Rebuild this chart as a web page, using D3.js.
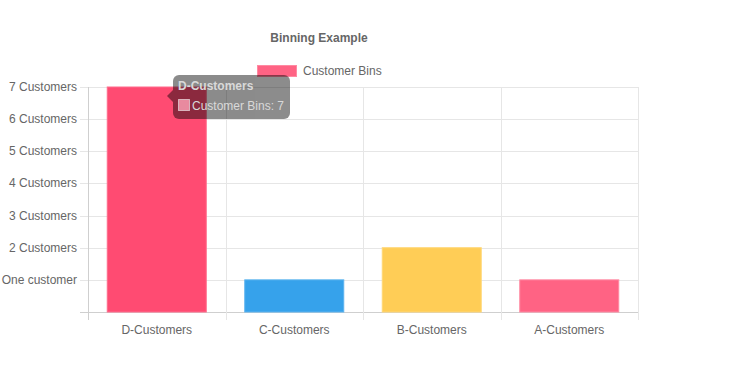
<!DOCTYPE html>
<html lang="en">
<head>
  <meta charset="UTF-8">
  <title>Binning Example</title>
  <style>
    body { margin: 0; background: #fff; }
    svg text { font-family: "Liberation Sans", Arial, sans-serif; }
  </style>
</head>
<body>
  <svg id="grafico" width="744" height="379"></svg>

  <script src="https://d3js.org/d3.v7.min.js"></script>
  <script>
    // dados do gráfico
    const categorias = ['D-Customers', 'C-Customers', 'B-Customers', 'A-Customers'];
    const valores = [7, 1, 2, 1];
    const coresBarras = ['#ff4b72', '#36a2eb', '#ffcd56', '#ff6384'];
    const bordasBarras = ['#ff6c8c', '#5cb3ef', '#ffd777', '#ff8aa2'];
    const ticksY = [0, 1, 2, 3, 4, 5, 6, 7];
    const rotulosY = ['', 'One customer', '2 Customers', '3 Customers', '4 Customers', '5 Customers', '6 Customers', '7 Customers'];
    const nomeSerie = 'Customer Bins';
    const titulo = 'Binning Example';

    const svg = d3.select('#grafico');
    const area = { esquerda: 88, direita: 638, topo: 87, base: 312 };

    const x = d3.scaleBand()
      .domain(categorias)
      .range([area.esquerda, area.direita])
      .paddingInner(0).paddingOuter(0);

    const y = d3.scaleLinear()
      .domain([0, 7])
      .range([area.base, area.topo]);

    // grade horizontal
    svg.append('g')
      .selectAll('line')
      .data(ticksY)
      .enter().append('line')
      .attr('x1', area.esquerda - 8)
      .attr('x2', area.direita)
      .attr('y1', d => Math.round(y(d)) + 0.5)
      .attr('y2', d => Math.round(y(d)) + 0.5)
      .attr('stroke', d => d === 0 ? '#cfcfcf' : '#e6e6e6');

    // grade vertical
    const bordasX = categorias.map(c => x(c)).concat([area.direita]);
    svg.append('g')
      .selectAll('line')
      .data(bordasX)
      .enter().append('line')
      .attr('x1', d => Math.round(d) + 0.5)
      .attr('x2', d => Math.round(d) + 0.5)
      .attr('y1', area.topo)
      .attr('y2', area.base + 8)
      .attr('stroke', (d, i) => i === 0 ? '#cfcfcf' : '#e6e6e6');

    // rótulos do eixo y
    svg.append('g')
      .selectAll('text')
      .data(ticksY)
      .enter().append('text')
      .attr('x', area.esquerda - 11)
      .attr('y', d => y(d) + 4)
      .attr('text-anchor', 'end')
      .style('font-size', '12px')
      .style('fill', '#666')
      .text((d, i) => rotulosY[i]);

    // rótulos do eixo x
    svg.append('g')
      .selectAll('text')
      .data(categorias)
      .enter().append('text')
      .attr('x', d => x(d) + x.bandwidth() / 2)
      .attr('y', area.base + 22)
      .attr('text-anchor', 'middle')
      .style('font-size', '12px')
      .style('fill', '#666')
      .text(d => d);

    // barras
    const larguraBarra = x.bandwidth() * 0.72;
    svg.append('g')
      .selectAll('rect')
      .data(valores)
      .enter().append('rect')
      .attr('x', (d, i) => x(categorias[i]) + (x.bandwidth() - larguraBarra) / 2)
      .attr('y', d => y(d))
      .attr('width', larguraBarra)
      .attr('height', d => y(0) - y(d))
      .attr('fill', (d, i) => coresBarras[i])
      .attr('stroke', (d, i) => bordasBarras[i])
      .attr('stroke-width', 1);

    // título
    svg.append('text')
      .attr('x', 319)
      .attr('y', 42)
      .attr('text-anchor', 'middle')
      .style('font-size', '12px')
      .style('font-weight', 'bold')
      .style('fill', '#666')
      .text(titulo);

    // legenda
    svg.append('rect')
      .attr('x', 257.5).attr('y', 65.5)
      .attr('width', 39).attr('height', 11)
      .attr('fill', '#ff6384')
      .attr('stroke', '#ff8aa2');
    svg.append('text')
      .attr('x', 303)
      .attr('y', 75)
      .style('font-size', '12px')
      .style('fill', '#666')
      .text(nomeSerie);

    // tooltip (barra D em destaque)
    const ix = 0;
    const tx = x(categorias[ix]) + x.bandwidth() / 2 + larguraBarra / 2 - 34;
    const ty = y(valores[ix]);
    const tip = svg.append('g').attr('opacity', 0.45);
    tip.append('rect')
      .attr('x', 173).attr('y', 75)
      .attr('width', 117).attr('height', 44)
      .attr('rx', 6)
      .attr('fill', '#000');
    tip.append('path')
      .attr('d', 'M173,90 L167,96 L173,102 Z')
      .attr('fill', '#000');

    const textoTip = svg.append('g');
    textoTip.append('text')
      .attr('x', 178).attr('y', 90)
      .style('font-size', '12px')
      .style('font-weight', 'bold')
      .style('fill', '#d9d9d9')
      .text(categorias[ix]);
    textoTip.append('rect')
      .attr('x', 178.5).attr('y', 99.5)
      .attr('width', 11).attr('height', 11)
      .attr('fill', '#e88a9f')
      .attr('stroke', '#f0f0f0')
      .attr('stroke-opacity', 0.6);
    textoTip.append('text')
      .attr('x', 192).attr('y', 110)
      .style('font-size', '12px')
      .style('fill', '#d9d9d9')
      .text(nomeSerie + ': ' + valores[ix]);
  </script>
</body>
</html>
